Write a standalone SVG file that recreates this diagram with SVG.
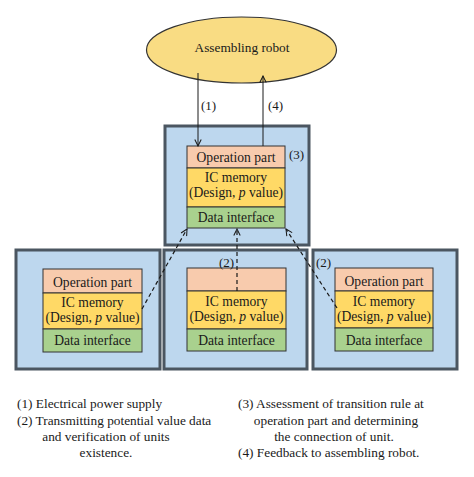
<svg xmlns="http://www.w3.org/2000/svg" width="474" height="477" viewBox="0 0 474 477" font-family="'Liberation Serif', 'Times New Roman', serif">
<defs>
<style>
text{font-family:'Liberation Serif','Times New Roman',serif;fill:#1a1a1a}
.unit{fill:#bdd7ee;stroke:#4b5661;stroke-width:3}
.op{fill:#f8cbad;stroke:#333;stroke-width:1}
.ic{fill:#ffd966;stroke:#333;stroke-width:1}
.di{fill:#a9d18e;stroke:#333;stroke-width:1}
.st{font-size:13.6px;text-anchor:middle}
.lbl{font-size:13px}
.leg{font-size:13.3px}
.solid{stroke:#1a1a1a;stroke-width:1;fill:none}
.dash{stroke:#1a1a1a;stroke-width:1.2;fill:none;stroke-dasharray:4 3}
</style>
<marker id="ah" viewBox="0 0 10 10" refX="9" refY="5" markerWidth="8" markerHeight="8" orient="auto" markerUnits="userSpaceOnUse">
<path d="M1,1 L9,5 L1,9" fill="none" stroke="#1a1a1a" stroke-width="1.3"/>
</marker>
</defs>
<rect width="474" height="477" fill="#ffffff"/>

<g id="robot">
<ellipse cx="241.5" cy="50" rx="95" ry="33" fill="#f9dc83" stroke="#333" stroke-width="1.2"/>
<text x="242" y="52" text-anchor="middle" style="font-size:13.3px">Assembling robot</text>
</g>

<g id="unit-top">
<rect class="unit" x="165" y="126" width="144" height="119"/>
<rect class="op" x="187" y="146" width="98" height="22"/>
<rect class="ic" x="187" y="168" width="98" height="39"/>
<rect class="di" x="187" y="207" width="98" height="21"/>
<text class="st" x="236" y="162">Operation part</text>
<text class="st" x="236" y="182">IC memory</text>
<text class="st" x="236" y="197">(Design, <tspan font-style="italic">p</tspan> value)</text>
<text class="st" x="236" y="222">Data interface</text>
</g>

<g id="unit-left">
<rect class="unit" x="16" y="250" width="144" height="119"/>
<rect class="op" x="43" y="269" width="99" height="24"/>
<rect class="ic" x="43" y="293" width="99" height="36"/>
<rect class="di" x="43" y="329" width="99" height="23"/>
<text class="st" x="92.5" y="287">Operation part</text>
<text class="st" x="92.5" y="307">IC memory</text>
<text class="st" x="92.5" y="322">(Design, <tspan font-style="italic">p</tspan> value)</text>
<text class="st" x="92.5" y="345">Data interface</text>
</g>

<g id="unit-middle">
<rect class="unit" x="164" y="250" width="143" height="119"/>
<rect class="op" x="187" y="268" width="99" height="23"/>
<rect class="ic" x="187" y="291" width="99" height="38"/>
<rect class="di" x="187" y="329" width="99" height="22"/>
<text class="st" x="236.5" y="306">IC memory</text>
<text class="st" x="236.5" y="321">(Design, <tspan font-style="italic">p</tspan> value)</text>
<text class="st" x="236.5" y="345">Data interface</text>
</g>

<g id="unit-right">
<rect class="unit" x="313" y="250" width="144" height="119"/>
<rect class="op" x="335" y="268" width="98" height="23"/>
<rect class="ic" x="335" y="291" width="98" height="37"/>
<rect class="di" x="335" y="328" width="98" height="23"/>
<text class="st" x="384" y="286">Operation part</text>
<text class="st" x="384" y="306">IC memory</text>
<text class="st" x="384" y="321">(Design, <tspan font-style="italic">p</tspan> value)</text>
<text class="st" x="384" y="345">Data interface</text>
</g>

<g id="connectors">
<line class="solid" x1="198" y1="73" x2="198" y2="146" marker-end="url(#ah)"/>
<line class="solid" x1="263" y1="146" x2="263" y2="76" marker-end="url(#ah)"/>
<line class="dash" x1="142" y1="309" x2="187" y2="229" marker-end="url(#ah)"/>
<line class="dash" x1="237" y1="291" x2="237" y2="229" marker-end="url(#ah)"/>
<line class="dash" x1="337" y1="308" x2="286" y2="229" marker-end="url(#ah)"/>
<text class="lbl" x="201" y="110">(1)</text>
<text class="lbl" x="268" y="110">(4)</text>
<text class="lbl" x="289" y="159">(3)</text>
<text class="lbl" x="219" y="267">(2)</text>
<text class="lbl" x="316" y="267">(2)</text>
</g>

<g id="legend">
<text class="leg" x="17" y="408">(1) Electrical power supply</text>
<text class="leg" x="17" y="425">(2) Transmitting potential value data</text>
<text class="leg" x="106" y="441" text-anchor="middle">and verification of units</text>
<text class="leg" x="106" y="457" text-anchor="middle">existence.</text>
<text class="leg" x="238" y="408">(3) Assessment of transition rule at</text>
<text class="leg" x="336" y="425" text-anchor="middle">operation part and determining</text>
<text class="leg" x="334" y="441" text-anchor="middle">the connection of unit.</text>
<text class="leg" x="238" y="457">(4) Feedback to assembling robot.</text>
</g>
</svg>
